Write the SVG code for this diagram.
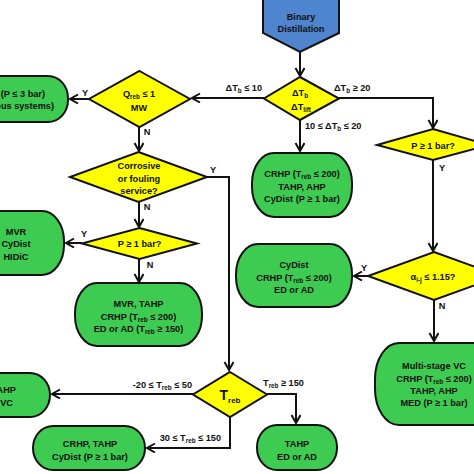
<svg xmlns="http://www.w3.org/2000/svg" width="474" height="474" viewBox="0 0 474 474">
<style>
text{font-family:"Liberation Sans",Arial,sans-serif;font-weight:bold;font-size:9.2px;fill:#111;text-anchor:middle}
.st{text-anchor:start}
.en{text-anchor:end}
.sub{font-size:6.3px}
.box{fill:#3ECB52;stroke:#111;stroke-width:2}
.dia{fill:#FFFF00;stroke:#111;stroke-width:2}
.start{fill:#4F84CF;stroke:#111;stroke-width:2}
.con{fill:none;stroke:#111;stroke-width:2;marker-end:url(#ah)}
</style>
<defs>
<marker id="ah" markerUnits="userSpaceOnUse" markerWidth="12" markerHeight="12" refX="9" refY="5" orient="auto">
<path d="M1,0.5 L9,5 L1,9.5" fill="none" stroke="#111" stroke-width="2"/>
</marker>
</defs>
<rect width="474" height="474" fill="#fff"/>

<g id="connectors">
<path class="con" d="M300,52 V76"/>
<path class="con" d="M264,98 H192"/>
<path class="con" d="M339,98 H433 V128"/>
<path class="con" d="M300,120 V151"/>
<path class="con" d="M89,99 H70"/>
<path class="con" d="M139,127 V151"/>
<path class="con" d="M207,177 H229 V370"/>
<path class="con" d="M139,202 V227"/>
<path class="con" d="M82,243 H66"/>
<path class="con" d="M139,259 V282"/>
<path class="con" d="M193,394 H52"/>
<path class="con" d="M230,417 V448 H147"/>
<path class="con" d="M267,394 H296 V423"/>
<path class="con" d="M433,160 V251"/>
<path class="con" d="M368,276 H354"/>
<path class="con" d="M434,300 V341"/>
<text class="en" x="262" y="91">ΔT<tspan class="sub" dy="2">b</tspan><tspan dy="-2"> ≤ 10</tspan></text>
<text class="st" x="334" y="91">ΔT<tspan class="sub" dy="2">b</tspan><tspan dy="-2"> ≥ 20</tspan></text>
<text class="st" x="305" y="129">10 ≤ ΔT<tspan class="sub" dy="2">b</tspan><tspan dy="-2"> ≤ 20</tspan></text>
<text x="85" y="96">Y</text>
<text x="147" y="135">N</text>
<text x="213" y="173">Y</text>
<text x="147" y="210">N</text>
<text x="84" y="237">Y</text>
<text x="150" y="268">N</text>
<text class="en" x="192" y="388">-20 ≤ T<tspan class="sub" dy="2">reb</tspan><tspan dy="-2"> ≤ 50</tspan></text>
<text class="en" x="221" y="441">30 ≤ T<tspan class="sub" dy="2">reb</tspan><tspan dy="-2"> ≤ 150</tspan></text>
<text class="st" x="263" y="386">T<tspan class="sub" dy="2">reb</tspan><tspan dy="-2"> ≥ 150</tspan></text>
<text x="442" y="171">Y</text>
<text x="364" y="271">Y</text>
<text x="442" y="309">N</text>
</g>

<g id="binary">
<polygon class="start" points="263,-2 339,-2 339,33 300,52 263,33"/>
<text x="301" y="20">Binary</text>
<text x="301" y="32">Distillation</text>
</g>

<g id="dT">
<polygon class="dia" points="300,77 339,98.5 300,120 264,98.5"/>
<text x="300" y="96">ΔT<tspan class="sub" dy="2">b</tspan></text>
<text x="301" y="110">ΔT<tspan class="sub" dy="2">lift</tspan></text>
</g>

<g id="qreb">
<polygon class="dia" points="139.5,71 190,99 139.5,127 89,99"/>
<text x="139" y="96.5">Q<tspan class="sub" dy="2">reb</tspan><tspan dy="-2"> ≤ 1</tspan></text>
<text x="139" y="110.5">MW</text>
</g>

<g id="lowq">
<rect class="box" x="-60" y="76" width="128" height="46" rx="20" ry="22"/>
<text class="en" x="45" y="96.5">(P ≤ 3 bar)</text>
<text class="en" x="54" y="109">ous systems)</text>
</g>

<g id="corrosive">
<polygon class="dia" points="138.5,152 207,177 138.5,202 70,177"/>
<text x="139" y="168.5">Corrosive</text>
<text x="139" y="181.5">or fouling</text>
<text x="139" y="194">service?</text>
</g>

<g id="pleft">
<polygon class="dia" points="139.5,228 197,243.5 139.5,259 82,243.5"/>
<text x="139.5" y="247">P ≥ 1 bar?</text>
</g>

<g id="mvr">
<rect class="box" x="-60" y="211" width="124" height="64" rx="22" ry="30"/>
<text x="16" y="234.5">MVR</text>
<text x="16" y="247">CyDist</text>
<text x="16" y="259.5">HIDiC</text>
</g>

<g id="mvrtahp">
<rect class="box" x="75" y="283" width="127" height="63" rx="22" ry="30"/>
<text x="138.5" y="306.5">MVR, TAHP</text>
<text x="138.5" y="319.5">CRHP (T<tspan class="sub" dy="2">reb</tspan><tspan dy="-2"> ≤ 200)</tspan></text>
<text x="138.5" y="332">ED or AD (T<tspan class="sub" dy="2">reb</tspan><tspan dy="-2"> ≥ 150)</tspan></text>
</g>

<g id="treb">
<polygon class="dia" points="230,372 267,394.5 230,417 193,394.5"/>
<text x="230" y="400" style="font-size:14px">T<tspan style="font-size:8px" dy="3">reb</tspan></text>
</g>

<g id="lowtreb">
<rect class="box" x="-60" y="373" width="110" height="44" rx="20" ry="22"/>
<text class="en" x="16" y="392.5">TAHP</text>
<text class="en" x="13" y="406">VC</text>
</g>

<g id="midtreb">
<rect class="box" x="33" y="426" width="112" height="44" rx="20" ry="22"/>
<text x="90" y="446.5">CRHP, TAHP</text>
<text x="90" y="459.5">CyDist (P ≥ 1 bar)</text>
</g>

<g id="hightreb">
<rect class="box" x="257" y="425" width="80" height="45" rx="20" ry="22"/>
<text x="297" y="446.5">TAHP</text>
<text x="297" y="459.5">ED or AD</text>
</g>

<g id="crhp">
<rect class="box" x="252" y="153" width="100" height="64" rx="22" ry="30"/>
<text x="302" y="176.5">CRHP (T<tspan class="sub" dy="2">reb</tspan><tspan dy="-2"> ≤ 200)</tspan></text>
<text x="302" y="189.5">TAHP, AHP</text>
<text x="302" y="202">CyDist (P ≥ 1 bar)</text>
</g>

<g id="pright">
<polygon class="dia" points="433,129 489,145 433,160 377,145"/>
<text x="433" y="148.5">P ≥ 1 bar?</text>
</g>

<g id="alpha">
<polygon class="dia" points="434,252 500,276 434,300 368,276"/>
<text x="433" y="279.5">α<tspan class="sub" dy="2">i-j</tspan><tspan dy="-2"> ≤ 1.15?</tspan></text>
</g>

<g id="cydist">
<rect class="box" x="236" y="244" width="116" height="63" rx="22" ry="30"/>
<text x="294" y="267.5">CyDist</text>
<text x="294" y="280.5">CRHP  (T<tspan class="sub" dy="2">reb</tspan><tspan dy="-2"> ≤ 200)</tspan></text>
<text x="294" y="292.5">ED or AD</text>
</g>

<g id="multistage">
<rect class="box" x="375" y="343" width="125" height="82" rx="24" ry="36"/>
<text x="434" y="368.5">Multi-stage VC</text>
<text x="434" y="381.5">CRHP (T<tspan class="sub" dy="2">reb</tspan><tspan dy="-2"> ≤ 200)</tspan></text>
<text x="434" y="393.5">TAHP, AHP</text>
<text x="434" y="405.5">MED (P ≥ 1 bar)</text>
</g>
</svg>
